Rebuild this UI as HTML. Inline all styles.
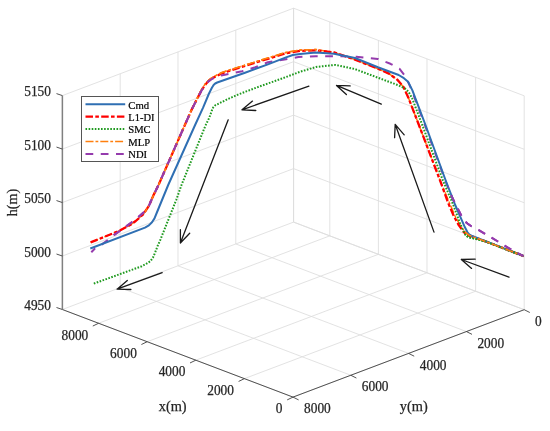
<!DOCTYPE html><html><head><meta charset="utf-8"><title>plot</title><style>

html,body{margin:0;padding:0;background:#fff;}
body{width:550px;height:431px;overflow:hidden;}
svg{display:block;}
.g{stroke:#dddddd;stroke-width:0.85;fill:none;}
.a{stroke:#404040;stroke-width:0.9;fill:none;}
.az{stroke:#808080;stroke-width:1.5;fill:none;}
.c1{stroke:#2f6fb3;stroke-width:2;fill:none;stroke-linejoin:round;}
.c2{stroke:#ff0000;stroke-width:2.3;fill:none;stroke-dasharray:7.5 2.3 3.6 2.3;stroke-linejoin:round;}
.c3{stroke:#1f9a1f;stroke-width:2;fill:none;stroke-dasharray:1.6 1.5;stroke-linejoin:round;}
.c4{stroke:#ff7f0e;stroke-width:1.5;fill:none;stroke-dasharray:8 2 2.8 2;stroke-linejoin:round;}
.c5{stroke:#953bad;stroke-width:2;fill:none;stroke-dasharray:7.75 7.5;stroke-linejoin:round;}
.ar{stroke:#1a1a1a;stroke-width:1.3;fill:none;stroke-linejoin:round;stroke-linecap:round;}
.t{font-family:"Liberation Serif",serif;font-size:13.6px;fill:#262626;stroke:#262626;stroke-width:0.25;}
.lab{font-family:"Liberation Serif",serif;font-size:14.5px;fill:#262626;stroke:#262626;stroke-width:0.25;}
.lt{font-family:"Liberation Serif",serif;font-size:10.6px;fill:#000;stroke:#000;stroke-width:0.2;}
.lgb{fill:#fff;stroke:#555;stroke-width:1;}

</style></head><body>
<svg width="550" height="431" viewBox="0 0 550 431">
<g>
<line class="g" x1="524.2" y1="309.7" x2="293" y2="397.1"/>
<line class="g" x1="475.6" y1="291.24" x2="244.4" y2="378.64"/>
<line class="g" x1="427" y1="272.77" x2="195.8" y2="360.18"/>
<line class="g" x1="378.4" y1="254.31" x2="147.2" y2="341.71"/>
<line class="g" x1="329.8" y1="235.85" x2="98.6" y2="323.25"/>
<line class="g" x1="524.2" y1="309.7" x2="293.59" y2="222.1"/>
<line class="g" x1="466.4" y1="331.55" x2="235.79" y2="243.95"/>
<line class="g" x1="408.6" y1="353.4" x2="177.99" y2="265.8"/>
<line class="g" x1="350.8" y1="375.25" x2="120.19" y2="287.65"/>
<line class="g" x1="293" y1="397.1" x2="62.39" y2="309.5"/>
<line class="g" x1="293.59" y1="222.1" x2="293.59" y2="8.2"/>
<line class="g" x1="235.79" y1="243.95" x2="235.79" y2="30.05"/>
<line class="g" x1="177.99" y1="265.8" x2="177.99" y2="51.9"/>
<line class="g" x1="120.19" y1="287.65" x2="120.19" y2="73.75"/>
<line class="g" x1="62.39" y1="309.5" x2="62.39" y2="95.6"/>
<line class="g" x1="293.59" y1="222.1" x2="62.39" y2="309.5"/>
<line class="g" x1="293.59" y1="168.62" x2="62.39" y2="256.02"/>
<line class="g" x1="293.59" y1="115.15" x2="62.39" y2="202.55"/>
<line class="g" x1="293.59" y1="61.67" x2="62.39" y2="149.07"/>
<line class="g" x1="293.59" y1="8.2" x2="62.39" y2="95.6"/>
<line class="g" x1="524.2" y1="309.7" x2="524.2" y2="95.8"/>
<line class="g" x1="475.6" y1="291.24" x2="475.6" y2="77.34"/>
<line class="g" x1="427" y1="272.77" x2="427" y2="58.88"/>
<line class="g" x1="378.4" y1="254.31" x2="378.4" y2="40.41"/>
<line class="g" x1="329.8" y1="235.85" x2="329.8" y2="21.95"/>
<line class="g" x1="524.2" y1="309.7" x2="293.59" y2="222.1"/>
<line class="g" x1="524.2" y1="256.23" x2="293.59" y2="168.62"/>
<line class="g" x1="524.2" y1="202.75" x2="293.59" y2="115.15"/>
<line class="g" x1="524.2" y1="149.28" x2="293.59" y2="61.67"/>
<line class="g" x1="524.2" y1="95.8" x2="293.59" y2="8.2"/>
<line class="g" x1="293.59" y1="222.1" x2="293.59" y2="8.2"/>
</g>
<g>
<line class="a" x1="62.39" y1="309.5" x2="293" y2="397.1"/>
<line class="a" x1="293" y1="397.1" x2="524.2" y2="309.7"/>
<line class="az" x1="62.39" y1="309.5" x2="62.39" y2="95.6"/>
<line class="a" x1="293" y1="397.1" x2="287.2" y2="399.9"/>
<line class="a" x1="244.4" y1="378.64" x2="238.6" y2="381.44"/>
<line class="a" x1="195.8" y1="360.18" x2="190" y2="362.98"/>
<line class="a" x1="147.2" y1="341.71" x2="141.4" y2="344.51"/>
<line class="a" x1="98.6" y1="323.25" x2="92.8" y2="326.05"/>
<line class="a" x1="524.2" y1="309.7" x2="529.8" y2="312.5"/>
<line class="a" x1="466.4" y1="331.55" x2="472" y2="334.35"/>
<line class="a" x1="408.6" y1="353.4" x2="414.2" y2="356.2"/>
<line class="a" x1="350.8" y1="375.25" x2="356.4" y2="378.05"/>
<line class="a" x1="293" y1="397.1" x2="298.6" y2="399.9"/>
<line class="a" x1="62.39" y1="309.5" x2="56.49" y2="307.5"/>
<line class="a" x1="62.39" y1="256.02" x2="56.49" y2="254.02"/>
<line class="a" x1="62.39" y1="202.55" x2="56.49" y2="200.55"/>
<line class="a" x1="62.39" y1="149.07" x2="56.49" y2="147.07"/>
<line class="a" x1="62.39" y1="95.6" x2="56.49" y2="93.6"/>
</g>
<g>
<defs><clipPath id="kTL"><rect x="145" y="0" width="175" height="215"/></clipPath><clipPath id="kSL"><rect x="112" y="70" width="103" height="170"/></clipPath><clipPath id="kRB"><rect x="448" y="186" width="90" height="80"/></clipPath><clipPath id="kEB"><rect x="465" y="228" width="70" height="40"/></clipPath></defs>
<polyline class="c4" points="90.6,242.4 119.8,230.6 131,224.5 135.7,221 143.4,214.2 148.9,205.9 153.1,196.1 158.5,185 185.3,124 191.6,109.8 197.4,98.2 201.5,89.7 203.8,86 206,83 208.5,80.4 211,78.4 214,76.5 222,72.5 245,65.1 267.9,58 286,52.4 300,50.1 315.9,49.5 334,52.4 355,59.6 377.9,68.7 389,73.6 397.4,79.8 403.5,87 408.5,98 417,120 439.9,180 449.5,203 455.1,216 460.2,225.4 464.9,231.9 469,235.1 472.8,236.7 485,241.1 523.6,256.1"/>
<polyline class="c2" points="90.6,242.4 119.8,230.6 131,224.5 135.7,221 143.4,214.2 148.9,205.9 153.1,196.1 158.5,185 185.3,124 191.6,109.8 197.4,98.2 201.5,90.5 203.8,86.8 206,83.8 208.5,81.2 211,79.2 214,77.3 222,73.3 245,65.9 267.9,58.8 286,53.2 300,50.9 315.9,50.3 334,52.4 355,59.6 377.9,68.7 389,73.6 397.4,79.8 403.5,87 408.5,98 417,120 439.9,180 448.2,203 453.8,216 458.9,225.4 463.6,231.9 467.7,235.1 472.8,236.7 485,241.1 523.6,256.1"/>
<polyline class="c5" stroke-dashoffset="2.25" points="91.3,252.2 94.7,248.7 101.7,244.6 107.3,240.4 114.2,234.8 119.8,231 126,226.5 131.7,222.3 138.6,216.7 143.5,212.5 148.9,205.9 153.1,196.1 158.5,185 185.3,124 191.6,109.8 197.4,98.2 201.5,90.5 203.8,86.8 206,83.8 208.5,81.2 211,79.5 214,77.8 221.2,75.4 242.1,71.3 255.3,67.2 267.9,62.3 284.6,59.5 298.5,57 315.9,56.2 342,56.2 356.3,56.8 377.9,58.9 390.4,63.8 399.4,68.7 404.3,75 408.6,83.1 411.2,89 424.1,123 444.4,178 448.5,189 452,197 456,205.5 459.5,212 462.3,217.5 464.5,221 467.5,223.6 471.4,226.3 477.9,229.6 485,233.8 497.9,241.5 510.4,249.1 514,251.5 523.6,256.1"/>
<polyline class="c3" points="93.8,283.6 141.8,266.2 146,264 150.5,261.1 153,257.5 154.9,253.1 158,245 160,240.7 176.2,200 181.5,185 205.3,126 209.3,117.7 211.6,111.2 213.1,107.6 215.2,105.3 218.3,103.8 227.8,99.1 238,94.6 245,91.9 260,86.3 282.8,78.2 300,71.8 315.9,67 335.4,64.9 355,69.1 377.9,77.7 398.7,85.4 405,88.5 408.5,91.7 412,98 420.4,120 442.7,180 453.3,205 459.8,222.6 462.6,229.1 465.5,235 468.5,237.3 472,238 485,241.3 523.6,256.1"/>
<polyline class="c1" points="90.3,248.5 145,227.6 148.9,225.4 152,222.2 154.5,218.4 157.3,211.5 168.2,185 195.1,125 203.2,107.4 209,93.5 211.9,87.7 213.6,85 215.2,83.5 217.2,82.5 245,72.7 267.9,64.4 286,57.4 292.9,55 300,53.9 315.9,52.4 334,53.8 355,58 377.9,67.3 398.7,75 403.9,78.2 408.1,81.7 412.3,90.1 425.5,125 445.5,180 455.2,205 461.2,218.9 464.9,227.3 467.5,232.3 469.5,234.6 472.8,236.3 485,240.9 523.6,256.1"/>
<polyline class="c4" clip-path="url(#kTL)" points="90.6,242.4 119.8,230.6 131,224.5 135.7,221 143.4,214.2 148.9,205.9 153.1,196.1 158.5,185 185.3,124 191.6,109.8 197.4,98.2 201.5,89.7 203.8,86 206,83 208.5,80.4 211,78.4 214,76.5 222,72.5 245,65.1 267.9,58 286,52.4 300,50.1 315.9,49.5 334,52.4 355,59.6 377.9,68.7 389,73.6 397.4,79.8 403.5,87 408.5,98 417,120 439.9,180 449.5,203 455.1,216 460.2,225.4 464.9,231.9 469,235.1 472.8,236.7 485,241.1 523.6,256.1"/>
<polyline class="c5" clip-path="url(#kSL)" stroke-dashoffset="2.25" points="91.3,252.2 94.7,248.7 101.7,244.6 107.3,240.4 114.2,234.8 119.8,231 126,226.5 131.7,222.3 138.6,216.7 143.5,212.5 148.9,205.9 153.1,196.1 158.5,185 185.3,124 191.6,109.8 197.4,98.2 201.5,90.5 203.8,86.8 206,83.8 208.5,81.2 211,79.5 214,77.8 221.2,75.4 242.1,71.3 255.3,67.2 267.9,62.3 284.6,59.5 298.5,57 315.9,56.2 342,56.2 356.3,56.8 377.9,58.9 390.4,63.8 399.4,68.7 404.3,75 408.6,83.1 411.2,89 424.1,123 444.4,178 448.5,189 452,197 456,205.5 459.5,212 462.3,217.5 464.5,221 467.5,223.6 471.4,226.3 477.9,229.6 485,233.8 497.9,241.5 510.4,249.1 514,251.5 523.6,256.1"/>
<polyline class="c3" clip-path="url(#kEB)" points="93.8,283.6 141.8,266.2 146,264 150.5,261.1 153,257.5 154.9,253.1 158,245 160,240.7 176.2,200 181.5,185 205.3,126 209.3,117.7 211.6,111.2 213.1,107.6 215.2,105.3 218.3,103.8 227.8,99.1 238,94.6 245,91.9 260,86.3 282.8,78.2 300,71.8 315.9,67 335.4,64.9 355,69.1 377.9,77.7 398.7,85.4 405,88.5 408.5,91.7 412,98 420.4,120 442.7,180 453.3,205 459.8,222.6 462.6,229.1 465.5,235 468.5,237.3 472,238 485,241.3 523.6,256.1"/>
<polyline class="c4" clip-path="url(#kEB)" points="90.6,242.4 119.8,230.6 131,224.5 135.7,221 143.4,214.2 148.9,205.9 153.1,196.1 158.5,185 185.3,124 191.6,109.8 197.4,98.2 201.5,89.7 203.8,86 206,83 208.5,80.4 211,78.4 214,76.5 222,72.5 245,65.1 267.9,58 286,52.4 300,50.1 315.9,49.5 334,52.4 355,59.6 377.9,68.7 389,73.6 397.4,79.8 403.5,87 408.5,98 417,120 439.9,180 449.5,203 455.1,216 460.2,225.4 464.9,231.9 469,235.1 472.8,236.7 485,241.1 523.6,256.1"/>
<polyline class="c5" clip-path="url(#kRB)" stroke-dashoffset="2.25" points="91.3,252.2 94.7,248.7 101.7,244.6 107.3,240.4 114.2,234.8 119.8,231 126,226.5 131.7,222.3 138.6,216.7 143.5,212.5 148.9,205.9 153.1,196.1 158.5,185 185.3,124 191.6,109.8 197.4,98.2 201.5,90.5 203.8,86.8 206,83.8 208.5,81.2 211,79.5 214,77.8 221.2,75.4 242.1,71.3 255.3,67.2 267.9,62.3 284.6,59.5 298.5,57 315.9,56.2 342,56.2 356.3,56.8 377.9,58.9 390.4,63.8 399.4,68.7 404.3,75 408.6,83.1 411.2,89 424.1,123 444.4,178 448.5,189 452,197 456,205.5 459.5,212 462.3,217.5 464.5,221 467.5,223.6 471.4,226.3 477.9,229.6 485,233.8 497.9,241.5 510.4,249.1 514,251.5 523.6,256.1"/>
</g>
<g>
<path class="ar" d="M308.9 86.1L242 109.8M252.5 101.1L242 109.8L255.8 110.5"/>
<path class="ar" d="M381.3 104.2L336.5 85.4M350.2 85.9L336.5 85.4L346.4 94.6"/>
<path class="ar" d="M228.2 119.8L180.4 243M180.4 229.6L180.4 243L189.7 233.3"/>
<path class="ar" d="M434 232.1L395.2 124.3M394.6 137.7L395.2 124.3L404.2 134.8"/>
<path class="ar" d="M162.2 272.7L117.1 289.2M127.3 280.4L117.1 289.2L130.9 289.5"/>
<path class="ar" d="M509 277.2L461.3 259.5M475.2 259.2L461.3 259.5L471.6 268.4"/>
</g>
<g>
<text class="t" x="24.22" y="96" text-anchor="start" textLength="26.74" lengthAdjust="spacingAndGlyphs">5150</text>
<text class="t" x="24.22" y="149.5" text-anchor="start" textLength="26.74" lengthAdjust="spacingAndGlyphs">5100</text>
<text class="t" x="24.22" y="203" text-anchor="start" textLength="26.74" lengthAdjust="spacingAndGlyphs">5050</text>
<text class="t" x="24.22" y="256.5" text-anchor="start" textLength="26.74" lengthAdjust="spacingAndGlyphs">5000</text>
<text class="t" x="24.22" y="310" text-anchor="start" textLength="26.74" lengthAdjust="spacingAndGlyphs">4950</text>
<text class="t" x="61.57" y="339.7" text-anchor="start" textLength="26.74" lengthAdjust="spacingAndGlyphs">8000</text>
<text class="t" x="110.12" y="358" text-anchor="start" textLength="26.74" lengthAdjust="spacingAndGlyphs">6000</text>
<text class="t" x="158.67" y="376.3" text-anchor="start" textLength="26.74" lengthAdjust="spacingAndGlyphs">4000</text>
<text class="t" x="207.22" y="394.6" text-anchor="start" textLength="26.74" lengthAdjust="spacingAndGlyphs">2000</text>
<text class="t" x="275.82" y="412.9" text-anchor="start" textLength="6.68" lengthAdjust="spacingAndGlyphs">0</text>
<text class="t" x="535.06" y="326.15" text-anchor="start" textLength="6.68" lengthAdjust="spacingAndGlyphs">0</text>
<text class="t" x="477.41" y="347.9" text-anchor="start" textLength="26.74" lengthAdjust="spacingAndGlyphs">2000</text>
<text class="t" x="419.79" y="369.65" text-anchor="start" textLength="26.74" lengthAdjust="spacingAndGlyphs">4000</text>
<text class="t" x="361.78" y="391.4" text-anchor="start" textLength="26.74" lengthAdjust="spacingAndGlyphs">6000</text>
<text class="t" x="304.06" y="413.15" text-anchor="start" textLength="26.74" lengthAdjust="spacingAndGlyphs">8000</text>
<text class="lab" x="158.75" y="410.5" text-anchor="start" textLength="27.9" lengthAdjust="spacingAndGlyphs">x(m)</text>
<text class="lab" x="399.8" y="410.7" text-anchor="start" textLength="27.9" lengthAdjust="spacingAndGlyphs">y(m)</text>
<text class="lab" transform="translate(17.2 216.2) rotate(-90)" x="0" y="0" textLength="27.3" lengthAdjust="spacingAndGlyphs">h(m)</text>
</g>
<g>
<rect class="lgb" x="81.5" y="96.5" width="77" height="65"/>
<line class="c1" x1="85.5" y1="104.15" x2="125.2" y2="104.15"/>
<text class="lt" x="128.3" y="108.9" textLength="20.9" lengthAdjust="spacingAndGlyphs">Cmd</text>
<line class="c2" x1="85.5" y1="116.6" x2="125.2" y2="116.6"/>
<text class="lt" x="128.3" y="120.6" textLength="26.2" lengthAdjust="spacingAndGlyphs">L1-DI</text>
<line class="c3" x1="85.5" y1="128.9" x2="125.2" y2="128.9"/>
<text class="lt" x="128.3" y="133" textLength="22.4" lengthAdjust="spacingAndGlyphs">SMC</text>
<line class="c4" x1="85.5" y1="141.4" x2="125.2" y2="141.4"/>
<text class="lt" x="128.3" y="145.6" textLength="21.8" lengthAdjust="spacingAndGlyphs">MLP</text>
<line class="c5" x1="85.5" y1="154" x2="125.2" y2="154"/>
<text class="lt" x="128.3" y="158.1" textLength="18.8" lengthAdjust="spacingAndGlyphs">NDI</text>
</g>
</svg></body></html>
